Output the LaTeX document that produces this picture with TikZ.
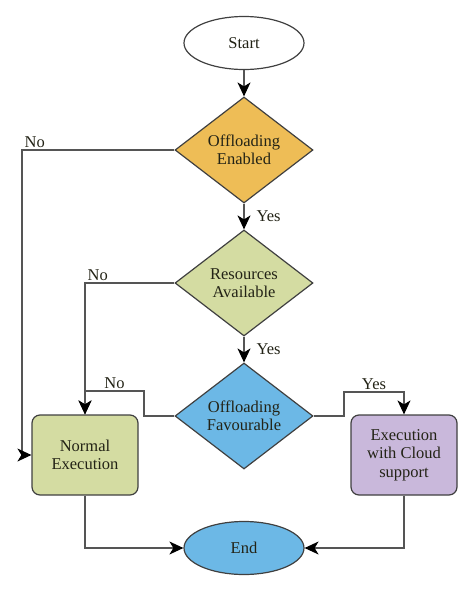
\documentclass[tikz,border=0pt]{standalone}
\usepackage{fontspec}
\setmainfont{Liberation Serif}
\usepackage{tikz}
\usetikzlibrary{arrows.meta,shapes.geometric}
\definecolor{cOrange}{RGB}{238,189,86}
\definecolor{cGreen}{RGB}{212,220,162}
\definecolor{cBlue}{RGB}{108,184,230}
\definecolor{cPurple}{RGB}{201,184,219}
\definecolor{cLine}{RGB}{85,85,85}
\definecolor{cText}{RGB}{35,35,22}
\tikzset{
term/.style = {ellipse, draw=black!75, fill=#1, minimum width=120pt,
               minimum height=53pt, inner sep=0pt},
term/.default = white,
dec/.style = {diamond, draw=black!75, fill=#1, minimum width=138pt,
              minimum height=106pt, inner sep=0pt, shape aspect=1.3,
              align=center},
proc/.style = {rectangle, rounded corners=8pt, draw=black!75, fill=#1,
               minimum width=106pt, minimum height=80pt, align=center},
lbl/.style = {text=cText, inner sep=2pt}
}
\tikzset{
flow/.style = {draw=cLine, line width=1.2pt,
               -{Stealth[length=14pt,width=13pt,inset=4pt,color=black]}}
}

\begin{document}
\begin{tikzpicture}[x=1pt, y=-1pt, line width=1.2pt,
    font=\fontsize{16.5}{18.5}\selectfont, text=cText]
    \useasboundingbox (0,0) rectangle (474,592);
    \node[term] (start) at (244,43) {Start};
    \node[dec=cOrange] (decEnabled) at (244,150) {Offloading\\Enabled};
    \node[dec=cGreen] (decResources) at (244,283) {Resources\\Available};
    \node[dec=cBlue] (decFavour) at (244,416) {Offloading\\Favourable};
    \node[proc=cGreen] (procNormal) at (85,455) {Normal\\Execution};
    \node[proc=cPurple] (procCloud) at (404,455) {Execution\\with Cloud\\support};
    \node[term=cBlue] (endNode) at (244,548) {End};
    \coordinate (cornerNo) at (22,150);
    \coordinate (cornerFavNo) at (144,391);
    \coordinate (cornerFavYes) at (344,392);

    \draw[flow] (start) -- (decEnabled);
    \draw[flow] (decEnabled) -- node[lbl, right, xshift=10pt]{Yes} (decResources);
    \draw[flow] (decResources) -- node[lbl, right, xshift=10pt]{Yes} (decFavour);

    \draw[flow] (decEnabled.west) -- (cornerNo) node[lbl, above right]{No}
        |- (procNormal.west);
    \draw[flow] (decResources.west) -| node[lbl, pos=0.5, above right]{No}
        (procNormal.north);
    \draw[flow] (decFavour.west) -| (cornerFavNo)
        -| node[lbl, pos=0.25, above]{No} (procNormal.north);
    \draw[flow] (decFavour.east) -| (cornerFavYes)
        -| node[lbl, pos=0.25, above]{Yes} (procCloud.north);

    \draw[flow] (procNormal.south) |- (endNode.west);
    \draw[flow] (procCloud.south) |- (endNode.east);
\end{tikzpicture}
\end{document}
